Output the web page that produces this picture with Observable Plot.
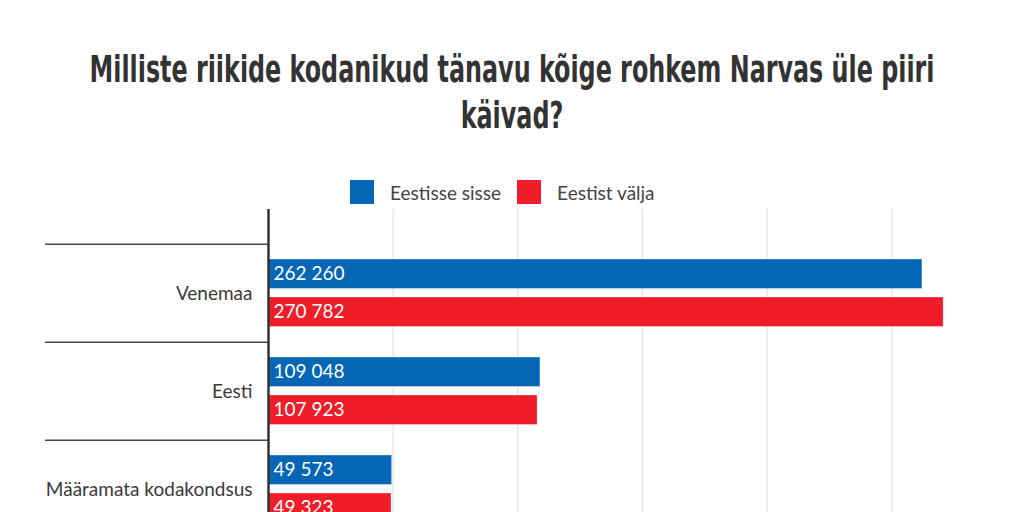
<!DOCTYPE html>
<html lang="et">
<head>
<meta charset="utf-8">
<script src="https://cdn.jsdelivr.net/npm/d3@7"></script>
<script src="https://cdn.jsdelivr.net/npm/@observablehq/plot@0.6"></script>
<style>
  html, body { margin: 0; padding: 0; background: #fff; }
  body { width: 1024px; height: 512px; overflow: hidden; position: relative; font-family: Lato, "Noto Sans", sans-serif; }
  #title {
    position: absolute; left: 0; top: 46px; width: 1024px;
    display: flex; flex-direction: column; align-items: center;
    color: #333;
    font-family: "DejaVu Sans Condensed", "DejaVu Sans", sans-serif;
    font-weight: bold; font-size: 38px; line-height: 46px;
    transform-origin: 512px 0; white-space: nowrap;
  }
  #title span { display: block; flex: none; }
  #legend {
    position: absolute; left: 350px; top: 180px; height: 24px;
    display: flex; align-items: center; color: #444; font-size: 19px;
  }
  #legend .sw { width: 24px; height: 24px; display: inline-block; }
  #legend .lab { margin-left: 16px; margin-right: 16px; }
  #chart { position: absolute; left: 0; top: 209px; }
</style>
</head>
<body>
<div id="title"><span id="t1">Milliste riikide kodanikud tänavu kõige rohkem Narvas üle piiri</span><span>käivad?</span></div>
<div id="legend"></div>
<div id="chart"></div>
<script>
// Categories (citizenship) and border crossings per direction
const categories = ["Venemaa", "Eesti", "Määramata kodakondsus"];
const seriesNames = ["Eestisse sisse", "Eestist välja"];
const intoEstonia = [262260, 109048, 49573];
const outOfEstonia = [270782, 107923, 49323];
const gridTicks = [50000, 100000, 150000, 200000, 250000];
const colors = ["#0466b4", "#ef1d27"];

const rows = categories.flatMap((c, i) => [
  {category: c, series: seriesNames[0], value: intoEstonia[i]},
  {category: c, series: seriesNames[1], value: outOfEstonia[i]}
]);
const inRows = rows.filter(d => d.series === seriesNames[0]);
const outRows = rows.filter(d => d.series === seriesNames[1]);

const fmt = v => d3.format(",")(v).replace(/,/g, "\u00a0");

// condense the headline so its first line spans about 845px
const titleWidth = document.getElementById("t1").getBoundingClientRect().width;
document.getElementById("title").style.transform = `scaleX(${845 / titleWidth})`;

// legend
const legend = d3.select("#legend");
seriesNames.forEach((s, i) => {
  legend.append("span").attr("class", "sw").style("background", colors[i]);
  legend.append("span").attr("class", "lab").text(s);
});

const rowStep = 98.5;
const top0 = 34;

const chart = Plot.plot({
  width: 1024,
  height: 340,
  marginTop: 0,
  marginBottom: 10,
  marginLeft: 268,
  marginRight: 8,
  style: {fontFamily: "Lato, 'Noto Sans', sans-serif", background: "#fff"},
  x: {domain: [0, 300000], axis: null},
  y: {domain: categories, range: [top0, top0 + rowStep * categories.length], padding: 0, axis: null},
  color: {domain: seriesNames, range: colors},
  marks: [
    Plot.gridX({ticks: gridTicks, stroke: "#e6e6e6", strokeOpacity: 1, strokeWidth: 1.5}),
    // row separators in the left margin, at the top of each category band
    Plot.axisY({tickSize: 223, tickFormat: () => "", label: null, dy: -rowStep / 2, stroke: "#4a4a4a", strokeWidth: 1.5}),
    Plot.axisY({tickSize: 0, tickPadding: 16, label: null, fontSize: 19, fill: "#3a3a3a"}),
    Plot.barX(inRows, {x: "value", y: "category", fill: "series", insetTop: 15, insetBottom: 53.5, stroke: "#ffffff", strokeOpacity: 0.35, strokeWidth: 1}),
    Plot.barX(outRows, {x: "value", y: "category", fill: "series", insetTop: 53, insetBottom: 15.5, stroke: "#ffffff", strokeOpacity: 0.35, strokeWidth: 1}),
    Plot.text(inRows, {x: 0, y: "category", text: d => fmt(d.value), textAnchor: "start", dx: 5, dy: -19.25, fill: "white", fontSize: 19}),
    Plot.text(outRows, {x: 0, y: "category", text: d => fmt(d.value), textAnchor: "start", dx: 5, dy: 18.75, fill: "white", fontSize: 19}),
    Plot.ruleX([0], {stroke: "#333", strokeWidth: 2.5})
  ]
});
document.getElementById("chart").appendChild(chart);
</script>
</body>
</html>
